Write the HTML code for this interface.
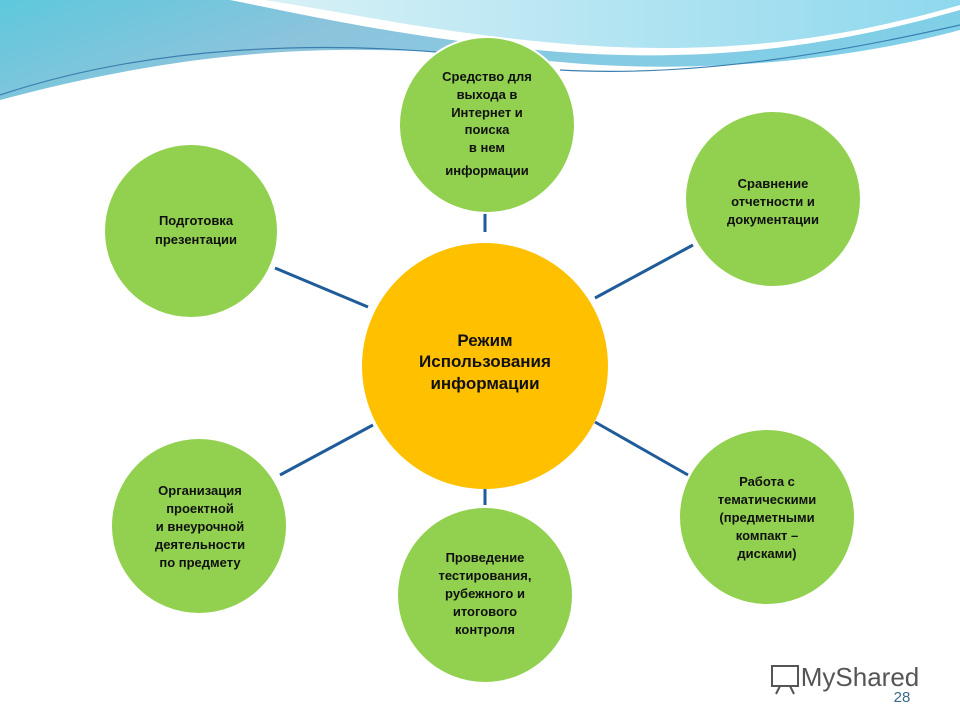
<!DOCTYPE html>
<html><head><meta charset="utf-8"><style>
body{margin:0;width:960px;height:720px;overflow:hidden;background:#fff;font-family:"Liberation Sans",sans-serif}
svg text{font-family:"Liberation Sans Narrow","Liberation Sans",sans-serif;font-weight:bold;fill:#111;text-anchor:middle}
</style></head><body>
<svg width="960" height="720" viewBox="0 0 960 720">
<defs>
<linearGradient id="bg" x1="0" y1="0" x2="1" y2="0.3">
<stop offset="0" stop-color="#5ec8dc"/><stop offset="0.4" stop-color="#8cc4dc"/><stop offset="1" stop-color="#7fd0e8"/>
</linearGradient>
<linearGradient id="bg2" x1="0" y1="0" x2="1" y2="0">
<stop offset="0" stop-color="#d8f1f6"/><stop offset="1" stop-color="#8fd8ee"/>
</linearGradient>
</defs>
<path d="M0,0 H960 V30 C850,60 700,75 560,62 C420,50 260,30 0,100 Z" fill="url(#bg)"/>
<path d="M230,0 C330,20 420,40 560,52 C700,62 820,50 960,10 V0 Z" fill="#fff"/>
<path d="M265,0 C360,15 450,35 580,45 C720,55 840,40 960,5 V0 Z" fill="url(#bg2)"/>
<path d="M0,95 C150,45 320,40 470,55 M560,70 C700,78 850,50 960,25" stroke="#3b7fb0" stroke-width="1.2" fill="none"/>
<g stroke="#1f5c99" stroke-width="3">
<line x1="485" y1="212" x2="485" y2="232"/>
<line x1="275" y1="268" x2="368" y2="307"/>
<line x1="693" y1="245" x2="595" y2="298"/>
<line x1="280" y1="475" x2="373" y2="425"/>
<line x1="485" y1="488" x2="485" y2="505"/>
<line x1="688" y1="475" x2="595" y2="422"/>
</g>
<g fill="#92d050" stroke="#fff" stroke-width="2">
<circle cx="487" cy="125" r="88"/>
<circle cx="191" cy="231" r="87"/>
<circle cx="773" cy="199" r="88"/>
<circle cx="199" cy="526" r="88"/>
<circle cx="485" cy="595" r="88"/>
<circle cx="767" cy="517" r="88"/>
</g>
<circle cx="485" cy="366" r="123" fill="#ffc000"/>
<g font-size="13">
<text x="487" y="81">Средство для</text><text x="487" y="99">выхода в</text><text x="487" y="117">Интернет и</text><text x="487" y="134">поиска</text><text x="487" y="152">в нем</text><text x="487" y="175">информации</text>
<text x="196" y="225">Подготовка</text><text x="196" y="244">презентации</text>
<text x="773" y="188">Сравнение</text><text x="773" y="206">отчетности и</text><text x="773" y="224">документации</text>
<text x="200" y="495">Организация</text><text x="200" y="513">проектной</text><text x="200" y="531">и внеурочной</text><text x="200" y="549">деятельности</text><text x="200" y="567">по предмету</text>
<text x="485" y="562">Проведение</text><text x="485" y="580">тестирования,</text><text x="485" y="598">рубежного и</text><text x="485" y="616">итогового</text><text x="485" y="634">контроля</text>
<text x="767" y="486">Работа с</text><text x="767" y="504">тематическими</text><text x="767" y="522">(предметными</text><text x="767" y="540">компакт –</text><text x="767" y="558">дисками)</text>
</g>
<g font-size="17"><text x="485" y="346">Режим</text><text x="485" y="367">Использования</text><text x="485" y="389">информации</text></g>
<g stroke="#555" stroke-width="2" fill="none"><rect x="772" y="666" width="26" height="20"/><line x1="780" y1="686" x2="776" y2="694"/><line x1="790" y1="686" x2="794" y2="694"/></g>
<text x="860" y="686" style="font-family:'Liberation Sans',sans-serif;font-weight:normal;font-size:26px;fill:#555">MyShared</text>
<text x="902" y="702" style="font-family:'Liberation Sans',sans-serif;font-weight:normal;font-size:15px;fill:#3a6c88">28</text>
</svg>
</body></html>
